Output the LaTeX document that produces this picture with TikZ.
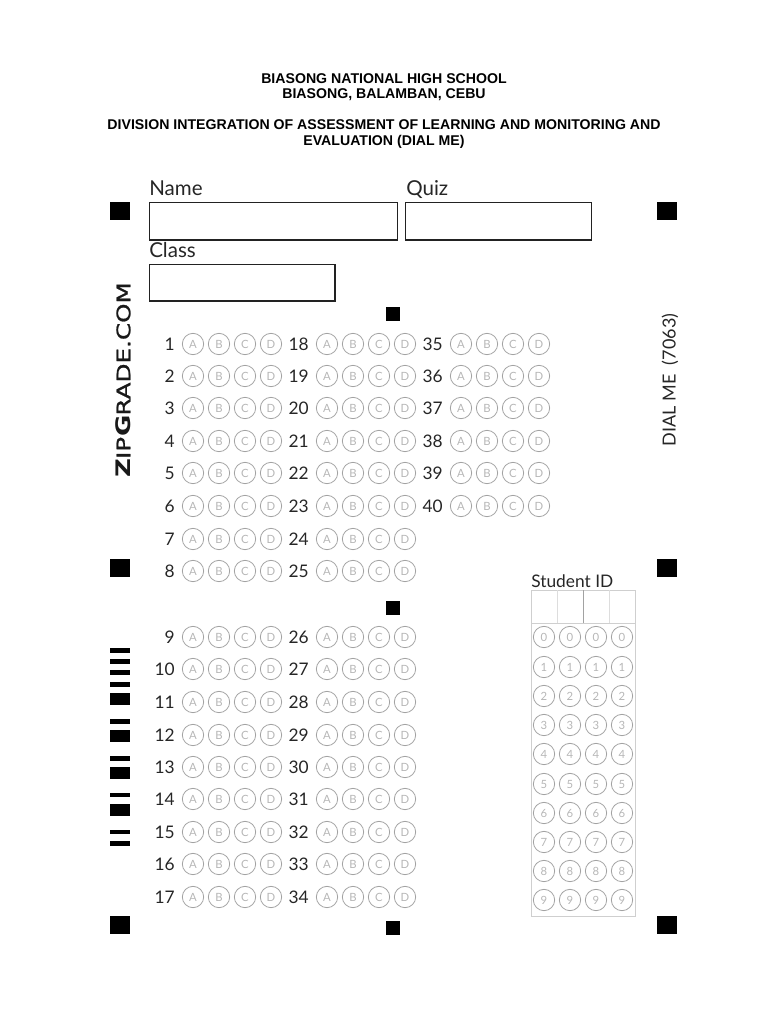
\documentclass[tikz,border=0pt]{standalone}
\usepackage{fontspec}
\setmainfont{Liberation Sans}
\newfontfamily\latofont{Lato}
\newfontfamily\zipfont[FakeStretch=1.32,FakeBold=1.2]{DejaVu Sans}
\newfontfamily\zipheavy[FakeStretch=1.3]{DejaVu Sans Bold}
\usepackage{xcolor}
\usetikzlibrary{positioning}
\definecolor{sheetgray}{HTML}{A2A2A2}
\definecolor{lettergray}{HTML}{B6B6B6}
\definecolor{gridgray}{HTML}{CFCFCF}
\definecolor{boxdark}{HTML}{222222}
\tikzset{
    % School heading
    headline/.style={
        font=\fontsize{10.6pt}{11pt}\selectfont\bfseries,
        inner sep=0pt
    },
    % Field caption
    fieldlabel/.style={
        font=\fontsize{15.4pt}{17pt}\latofont,
        text=black!85,
        anchor=base west,
        inner sep=0pt
    },
    % Write-in box
    fieldbox/.style={
        rectangle,
        draw=boxdark,
        line width=1pt,
        anchor=north west,
        inner sep=0pt
    },
    % Big corner mark
    cornermark/.style={
        rectangle,
        fill=black,
        minimum width=15pt,
        minimum height=14pt,
        inner sep=0pt
    },
    % Small centre mark
    centermark/.style={
        rectangle,
        fill=black,
        minimum width=10.5pt,
        minimum height=10pt,
        inner sep=0pt
    },
    % Question number
    questionnum/.style={
        font=\fontsize{13pt}{14pt}\latofont,
        text=black!85,
        anchor=east,
        inner sep=0pt
    },
    % Answer bubble
    bubble/.style={
        circle,
        draw=sheetgray,
        line width=0.6pt,
        text=lettergray,
        font=\fontsize{8.5pt}{9pt}\latofont,
        minimum size=16pt,
        inner sep=0pt
    }
}
\begin{document}
\begin{tikzpicture}[x=0.75pt,y=-0.75pt]
    \useasboundingbox (0,0) rectangle (768,1024);

    \node[headline] (school) at (384,79) {BIASONG NATIONAL HIGH SCHOOL};
    \node[headline] (town) at (384,95) {BIASONG, BALAMBAN, CEBU};
    \node[headline] (division) at (384,125) {DIVISION INTEGRATION OF ASSESSMENT OF LEARNING AND MONITORING AND};
    \node[headline] (evaluation) at (384,142) {EVALUATION (DIAL ME)};

    \node[fieldlabel] (name-label) at (149,195) {Name};
    \node[fieldlabel] (quiz-label) at (406,195) {Quiz};
    \node[fieldlabel] (class-label) at (149,257) {Class};
    \node[fieldbox, minimum width=186pt, minimum height=28pt] (name-box) at (149,202) {};
    \node[fieldbox, minimum width=139.5pt, minimum height=28pt] (quiz-box) at (405,202) {};
    \node[fieldbox, minimum width=139pt, minimum height=27.25pt] (class-box) at (149,264) {};

    % Registration marks
    \foreach \xa/\ya/\tag in {120/211/a, 667/211/b, 120/568/c, 667/568/d, 120/925/e, 667/925/f}
        \node[cornermark] (corner-\tag) at (\xa,\ya) {};
    \foreach \ya/\tag in {314/a, 608/b, 928/c}
        \node[centermark] (center-\tag) at (393,\ya) {};

    % Side texts
    \node[rotate=90, inner sep=0pt, text=black!90] (zipgrade) at (123,380)
        {\zipheavy\fontsize{15pt}{18pt}\selectfont Z\zipfont\fontsize{14pt}{14pt}\selectfont IP\zipheavy\fontsize{15pt}{18pt}\selectfont G\zipfont\fontsize{14pt}{14pt}\selectfont RADE.COM};
    \node[rotate=90, inner sep=0pt, text=black!85, font=\fontsize{13.5pt}{15pt}\latofont] (dialme) at (670,380) {DIAL ME~ (7063)};

    % Bar code
    \foreach \ya/\yb in {648/653, 659/664, 670/675, 682/687, 693/705, 719/724, 730/742, 756/761, 767/779, 793/797, 804/816, 830/834, 841/846}
        \fill[black] (110,\ya) rectangle (130,\yb);

    % Answer columns
    \foreach \row/\ya in {1/344, 2/376, 3/408, 4/441, 5/473, 6/506, 7/539, 8/571, 9/637, 10/669, 11/702, 12/735, 13/767, 14/799, 15/832, 16/864, 17/897} {
        \node[questionnum] (num-\row) at (175,\ya) {\row};
        \foreach \letter/\xa in {A/193, B/219, C/245, D/271}
            \node[bubble] (q\row-\letter) at (\xa,\ya) {\letter};
        \pgfmathtruncatemacro{\numb}{\row+17}
        \node[questionnum] (num-\numb) at (309,\ya) {\numb};
        \foreach \letter/\xa in {A/327, B/353, C/379, D/405}
            \node[bubble] (q\numb-\letter) at (\xa,\ya) {\letter};
    }
    \foreach \row/\ya in {1/344, 2/376, 3/408, 4/441, 5/473, 6/506} {
        \pgfmathtruncatemacro{\numc}{\row+34}
        \node[questionnum] (num-\numc) at (443,\ya) {\numc};
        \foreach \letter/\xa in {A/461, B/487, C/513, D/539}
            \node[bubble] (q\numc-\letter) at (\xa,\ya) {\letter};
    }

    % Student ID grid
    \node[fieldlabel, font=\fontsize{13pt}{14pt}\latofont] (id-label) at (531,587) {Student ID};
    \node[rectangle, draw=gridgray, line width=0.6pt, anchor=north west, minimum width=78pt, minimum height=244.5pt, inner sep=0pt] (id-box) at (531,590) {};
    \coordinate (id-head) at (531,623);
    \draw[gridgray, line width=0.6pt] (id-head) -- (id-head -| id-box.east);
    \draw[gridgray!70, line width=0.5pt] (557,590) -- (557,623) (609,590) -- (609,623);
    \draw[sheetgray, line width=0.7pt] (583,590) -- (583,623);
    \foreach \dig/\ya in {0/637, 1/667, 2/696, 3/725, 4/754, 5/784, 6/813, 7/842, 8/871, 9/900}
        \foreach \col/\xa in {1/544, 2/570, 3/596, 4/622}
            \node[bubble] (id\col-\dig) at (\xa,\ya) {\dig};
\end{tikzpicture}
\end{document}
